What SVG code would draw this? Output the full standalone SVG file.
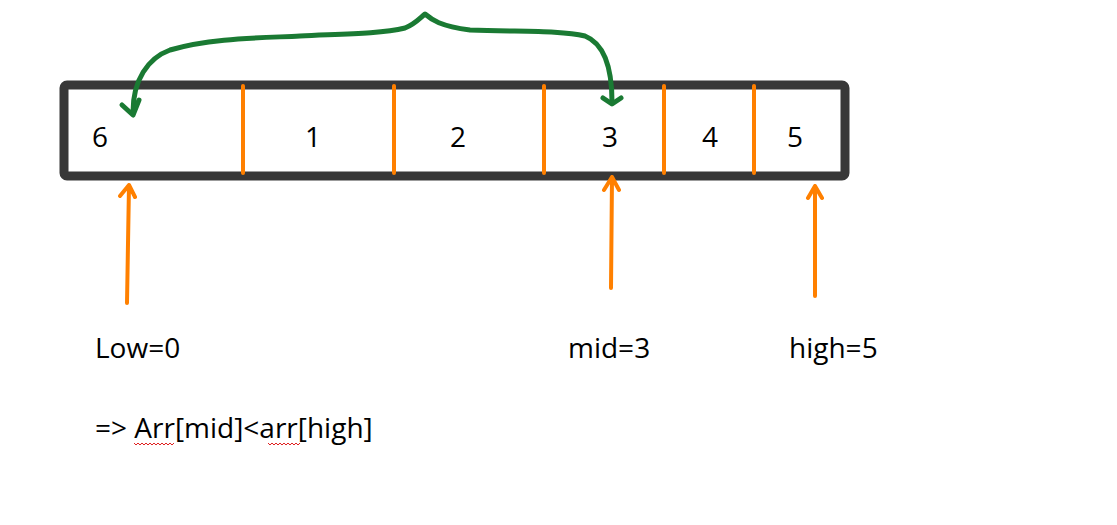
<svg xmlns="http://www.w3.org/2000/svg" width="1117" height="525" viewBox="0 0 1117 525">
<style>
text{font-family:"Open Sans","Liberation Sans",sans-serif;font-size:28px;fill:#000}
.div{stroke:#ff8000;stroke-width:4;stroke-linecap:round}
.arr{stroke:#ff8000;stroke-width:4;fill:none;stroke-linecap:round;stroke-linejoin:round}
.g{stroke:#1a7a33;stroke-width:5;fill:none;stroke-linecap:round;stroke-linejoin:round}
.sq{stroke:#e02020;stroke-width:1;fill:none}
</style>
<rect width="1117" height="525" fill="#fff"/>
<g id="array">
<rect x="64" y="85" width="781" height="91" rx="3" fill="#fff" stroke="#383838" stroke-width="9"/>
<line class="div" x1="243" y1="86" x2="243" y2="173"/>
<line class="div" x1="394" y1="86" x2="394" y2="173"/>
<line class="div" x1="544" y1="86" x2="544" y2="173"/>
<line class="div" x1="664" y1="86" x2="664" y2="173"/>
<line class="div" x1="754" y1="86" x2="754" y2="173"/>
<text x="92" y="147">6</text>
<text x="305" y="147">1</text>
<text x="450" y="147">2</text>
<text x="602" y="147">3</text>
<text x="702" y="147">4</text>
<text x="787" y="147">5</text>
</g>
<g id="connectors">
<path class="g" d="M133 112 C133 80 148 58 170 50 C210 38 260 38 300 36 C340 34 380 34 405 28 C415 24 420 18 425 14 C432 20 440 26 470 30 C520 32 560 30 585 36 C605 44 612 70 612 102"/>
<path class="g" d="M122 105 L133 115 L139 100"/>
<path class="g" d="M603 98 L612 104 L621 98"/>
<path class="arr" d="M127 303 L129 185 M120 196 L129 185 L135 197"/>
<path class="arr" d="M611 288 L612 177 M604 190 L612 177 L619 190"/>
<path class="arr" d="M815 296 L815 186 M808 198 L815 186 L822 198"/>
</g>
<g id="labels">
<text x="95" y="358">Low=0</text>
<text x="568" y="358">mid=3</text>
<text x="789" y="358">high=5</text>
<text x="95" y="438">=&gt; Arr[mid]&lt;arr[high]</text>
<path class="sq" d="M134 443 l2 2 l2 -2 l2 2 l2 -2 l2 2 l2 -2 l2 2 l2 -2 l2 2 l2 -2 l2 2 l2 -2 l2 2 l2 -2 l2 2 l2 -2 l2 2 l2 -2 l2 2 l2 -2"/>
<path class="sq" d="M268 443 l2 2 l2 -2 l2 2 l2 -2 l2 2 l2 -2 l2 2 l2 -2 l2 2 l2 -2 l2 2 l2 -2 l2 2 l2 -2 l2 2 l2 -2"/>
</g>
</svg>
